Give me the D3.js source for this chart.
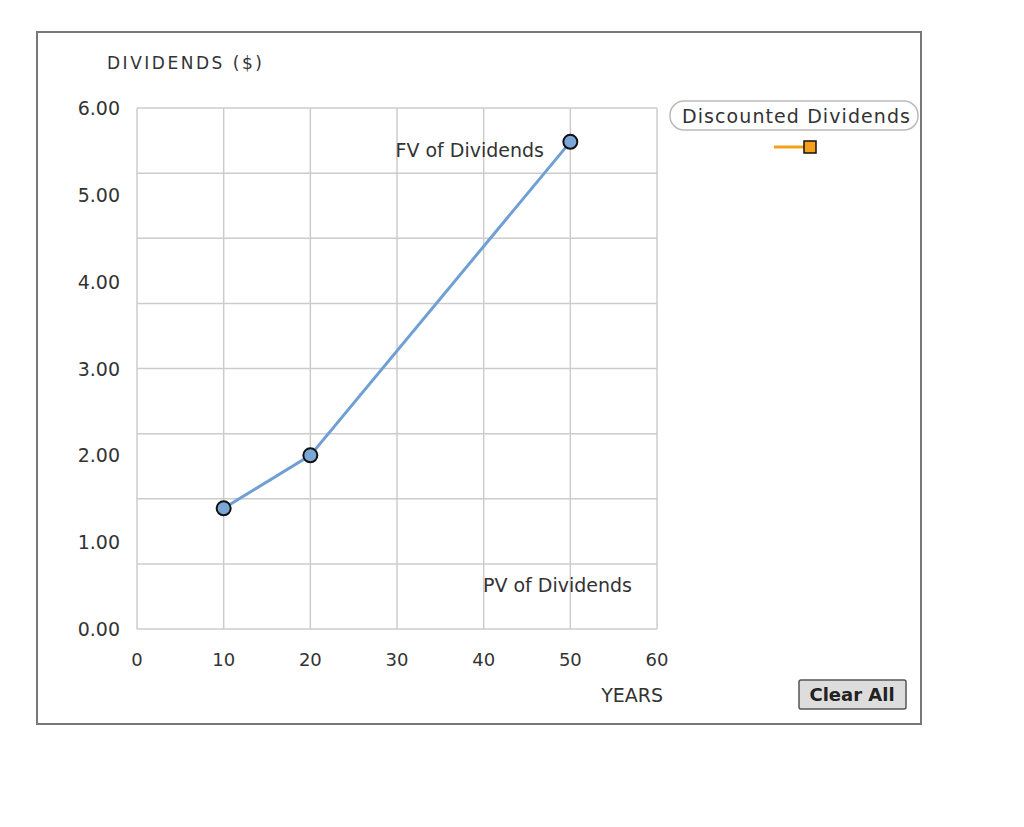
<!DOCTYPE html>
<html><head><meta charset="utf-8">
<script src="https://cdn.jsdelivr.net/npm/d3@7"></script>
<style>body{margin:0;background:#fff}text{font-family:"DejaVu Sans",sans-serif}</style>
</head><body><svg id="c" width="1024" height="827"></svg>
<script>
const years = [10, 20, 50];
const dividends = [1.39, 2.0, 5.61];
const xTicks = [0, 10, 20, 30, 40, 50, 60];
const yTickLabels = [0, 1, 2, 3, 4, 5, 6];
const yGrid = [0, 0.75, 1.5, 2.25, 3, 3.75, 4.5, 5.25, 6];

const svg = d3.select("#c");
svg.append("rect").attr("x", 37).attr("y", 32).attr("width", 884).attr("height", 692)
  .attr("fill", "#fff").attr("stroke", "#777").attr("stroke-width", 2);

const x = d3.scaleLinear().domain([0, 60]).range([137, 657]);
const y = d3.scaleLinear().domain([0, 6]).range([629, 108]);

const g = svg.append("g");
g.selectAll(".vg").data(xTicks).join("line")
  .attr("x1", d => x(d)).attr("x2", d => x(d)).attr("y1", y(0)).attr("y2", y(6))
  .attr("stroke", "#ccc").attr("stroke-width", 1.5);
g.selectAll(".hg").data(yGrid).join("line")
  .attr("x1", x(0)).attr("x2", x(60)).attr("y1", d => y(d)).attr("y2", d => y(d))
  .attr("stroke", "#ccc").attr("stroke-width", 1.5);

g.selectAll(".xl").data(xTicks).join("text")
  .attr("x", d => x(d)).attr("y", 666).attr("text-anchor", "middle")
  .attr("font-size", 18).attr("fill", "#333").text(d => d);
g.selectAll(".yl").data(yTickLabels).join("text")
  .attr("x", 120).attr("y", d => y(d) + 7).attr("text-anchor", "end")
  .attr("font-size", 19).attr("fill", "#333").text(d => d.toFixed(2));

svg.append("text").attr("x", 107).attr("y", 69).attr("font-size", 17).attr("textLength", 155).attr("fill", "#333").text("DIVIDENDS ($)");
svg.append("text").attr("x", 663).attr("y", 702).attr("text-anchor", "end").attr("font-size", 19).attr("fill", "#333").text("YEARS");
svg.append("text").attr("x", 544).attr("y", 157).attr("text-anchor", "end").attr("font-size", 19).attr("fill", "#333").text("FV of Dividends");
svg.append("text").attr("x", 632).attr("y", 592).attr("text-anchor", "end").attr("font-size", 19).attr("fill", "#333").text("PV of Dividends");

const pts = years.map((d, i) => [d, dividends[i]]);
svg.append("path").datum(pts)
  .attr("d", d3.line().x(d => x(d[0])).y(d => y(d[1])))
  .attr("fill", "none").attr("stroke", "#6f9fd4").attr("stroke-width", 3);
svg.selectAll(".pt").data(pts).join("circle")
  .attr("cx", d => x(d[0])).attr("cy", d => y(d[1])).attr("r", 7)
  .attr("fill", "#7aa7d8").attr("stroke", "#111").attr("stroke-width", 2);

// legend
svg.append("rect").attr("x", 670).attr("y", 101).attr("width", 248).attr("height", 29).attr("rx", 14)
  .attr("fill", "#fff").attr("stroke", "#bbb").attr("stroke-width", 1.5);
svg.append("text").attr("x", 796).attr("y", 123).attr("text-anchor", "middle").attr("font-size", 19).attr("textLength", 228).attr("fill", "#333").text("Discounted Dividends");
svg.append("line").attr("x1", 774).attr("x2", 806).attr("y1", 147).attr("y2", 147).attr("stroke", "#f5a01a").attr("stroke-width", 3);
svg.append("rect").attr("x", 804).attr("y", 141).attr("width", 12).attr("height", 12)
  .attr("fill", "#f5a01a").attr("stroke", "#111").attr("stroke-width", 1.5);

// button
svg.append("rect").attr("x", 799).attr("y", 680).attr("width", 107).attr("height", 29).attr("rx", 2)
  .attr("fill", "#ddd").attr("stroke", "#555").attr("stroke-width", 1.5);
svg.append("text").attr("x", 852).attr("y", 701).attr("text-anchor", "middle").attr("font-size", 18).attr("font-weight", "bold").attr("fill", "#222").text("Clear All");
</script></body></html>
